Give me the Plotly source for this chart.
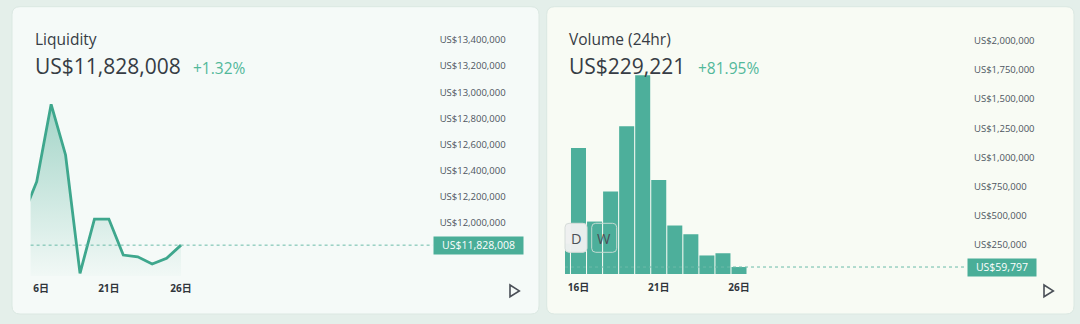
import plotly.graph_objects as go

W, H = 1080, 324

# ---------------- data ----------------
days = [15, 16, 17, 18, 19, 20, 21, 22, 23, 24, 25, 26]
liquidity = [12040000, 12314000, 12907000, 12519000, 11612000, 12028000,
             12028000, 11752000, 11739000, 11683000, 11727000, 11828008]
volume = [260000, 1082000, 450000, 708000, 1268000, 1706000,
          807000, 416000, 341000, 159000, 178000, 59797]

liq_ticks = [12000000, 12200000, 12400000, 12600000, 12800000, 13000000, 13200000, 13400000]
vol_ticks = [250000, 500000, 750000, 1000000, 1250000, 1500000, 1750000, 2000000]
liq_xticks = [16.31, 21, 26]
liq_xlabels = ["6日", "21日", "26日"]
vol_xticks = [16, 21, 26]
vol_xlabels = ["16日", "21日", "26日"]

liq_title, liq_value, liq_change = "Liquidity", "US$11,828,008", "+1.32%"
vol_title, vol_value, vol_change = "Volume (24hr)", "US$229,221", "+81.95%"
liq_last_label = "US$11,828,008"
vol_last_label = "US$59,797"

# ---------------- styling ----------------
TEAL_LINE = "#3ea78d"
TEAL_BAR = "#4daf9b"
TEAL_BOX = "#4aae98"
GREEN_TXT = "#52b89a"
DARK = "#363c44"
TICK = "#4d5560"
FONT = "Open Sans, Noto Sans CJK SC, sans-serif"


def px(x):
    return x / W


def py(y):
    return 1 - y / H


def rrect(x0, y0, x1, y1, r):
    X0, X1 = px(x0), px(x1)
    Y0, Y1 = py(y0), py(y1)
    rx, ry = r / W, r / H
    return (f"M {X0+rx},{Y0} L {X1-rx},{Y0} Q {X1},{Y0} {X1},{Y0-ry} "
            f"L {X1},{Y1+ry} Q {X1},{Y1} {X1-rx},{Y1} L {X0+rx},{Y1} "
            f"Q {X0},{Y1} {X0},{Y1+ry} L {X0},{Y0-ry} Q {X0},{Y0} {X0+rx},{Y0} Z")


fig = go.Figure()

# liquidity area line
liq_bottom = 12000000 - (276 - 222.7) * 7662.8
liq_top = 12000000 + (222.7 - 20) * 7662.8
fig.add_trace(go.Scatter(
    x=days, y=liquidity, mode="lines", xaxis="x", yaxis="y",
    line=dict(color=TEAL_LINE, width=2.8),
    fill="tozeroy",
    fillgradient=dict(type="vertical",
                      colorscale=[[0, "rgba(63,167,141,0.02)"], [1, "rgba(63,167,141,0.45)"]],
                      start=liq_bottom, stop=max(liquidity)),
    hoverinfo="skip", showlegend=False,
))

# volume bars
fig.add_trace(go.Bar(
    x=days, y=volume, xaxis="x2", yaxis="y2",
    marker=dict(color=TEAL_BAR, line=dict(width=0)),
    hoverinfo="skip", showlegend=False,
))

vol_top = (274 - 20) * 8579

shapes = []
# cards
for (x0, x1, col) in [(12, 539, "#f5faf8"), (546.7, 1074, "#f8fbf4")]:
    shapes.append(dict(type="path", path=rrect(x0, 6.7, x1, 314, 8), xref="paper", yref="paper",
                       fillcolor=col, line=dict(color="#dbe8e2", width=1), layer="below"))
# dotted last-value lines
shapes.append(dict(type="line", xref="x domain", x0=0, x1=1, yref="y",
                   y0=liquidity[-1], y1=liquidity[-1],
                   line=dict(color="#6bbba8", width=1, dash="dot"), layer="above"))
shapes.append(dict(type="line", xref="x2 domain", x0=0, x1=1, yref="y2",
                   y0=volume[-1], y1=volume[-1],
                   line=dict(color="#6bbba8", width=1, dash="dot"), layer="above"))
# D / W buttons
shapes.append(dict(type="path", path=rrect(565, 223.3, 587, 252.3, 4), xref="paper", yref="paper",
                   fillcolor="rgba(238,240,239,0.97)", line=dict(color="#d6dcd9", width=1), layer="above"))
shapes.append(dict(type="path", path=rrect(591.7, 223.3, 616.7, 252.3, 4), xref="paper", yref="paper",
                   fillcolor="rgba(0,0,0,0)", line=dict(color="#c4dbd2", width=1), layer="above"))
# play icons
for ox in (510, 1044):
    p = (f"M {px(ox)},{py(285)} L {px(ox+9.3)},{py(290.9)} L {px(ox)},{py(296.7)} Z")
    shapes.append(dict(type="path", path=p, xref="paper", yref="paper",
                       fillcolor="rgba(0,0,0,0)", line=dict(color="#4a4f57", width=1.6)))

ann = []


def text(x, y, s, size, color, anchor="left"):
    ann.append(dict(x=px(x), y=py(y), xref="paper", yref="paper", text=s, showarrow=False,
                    xanchor=anchor, yanchor="middle",
                    font=dict(family=FONT, size=size, color=color)))


text(33, 39.5, liq_title, 15.5, DARK)
text(32.5, 66, liq_value, 21, DARK)
text(190.5, 67.5, liq_change, 15.5, GREEN_TXT)
text(567.5, 39.5, vol_title, 15.5, DARK)
text(567.5, 66, vol_value, 21, DARK)
text(695.5, 67.5, vol_change, 15.5, GREEN_TXT)

# D / W labels
text(576, 238.5, "D", 14.5, "#4b5057", anchor="center")
text(604.2, 238.5, "W", 14.5, "#4b5057", anchor="center")

# last-value boxes
ann.append(dict(x=px(432.7), xref="paper", xanchor="left", y=liquidity[-1], yref="y", yanchor="middle",
                text=liq_last_label, showarrow=False, bgcolor=TEAL_BOX, borderpad=2,
                width=85, height=12.6, align="center",
                font=dict(family=FONT, size=10.5, color="white")))
ann.append(dict(x=px(967), xref="paper", xanchor="left", y=volume[-1], yref="y2", yanchor="middle",
                text=vol_last_label, showarrow=False, bgcolor=TEAL_BOX, borderpad=2,
                width=64, height=12.6, align="center",
                font=dict(family=FONT, size=10.5, color="white")))

axis_common = dict(showgrid=False, zeroline=False, showline=False, ticks="", fixedrange=True)

fig.update_layout(
    width=W, height=H, margin=dict(l=0, r=0, t=0, b=0),
    paper_bgcolor="#e4efea", plot_bgcolor="rgba(0,0,0,0)",
    bargap=0.065, showlegend=False,
    font=dict(family=FONT),
    xaxis=dict(domain=[px(30.6), px(432.7)], range=[15.577, 43.44], anchor="y",
               tickvals=liq_xticks, ticktext=liq_xlabels, ticklabelstandoff=5,
               tickfont=dict(family=FONT, size=10, color="#30353b", weight="bold"), **axis_common),
    yaxis=dict(domain=[py(276), py(20)], range=[liq_bottom, liq_top], anchor="x", side="right",
               tickvals=liq_ticks, ticktext=[f"US${v:,}" for v in liq_ticks], ticklabelstandoff=6,
               tickfont=dict(family=FONT, size=9.5, color=TICK), **axis_common),
    xaxis2=dict(domain=[px(565), px(967)], range=[15.159, 40.205], anchor="y2",
                tickvals=vol_xticks, ticktext=vol_xlabels, ticklabelstandoff=6,
                tickfont=dict(family=FONT, size=10, color="#30353b", weight="bold"), **axis_common),
    yaxis2=dict(domain=[py(274), py(20)], range=[0, vol_top], anchor="x2", side="right",
                tickvals=vol_ticks, ticktext=[f"US${v:,}" for v in vol_ticks], ticklabelstandoff=6,
                tickfont=dict(family=FONT, size=9.5, color=TICK), **axis_common),
    shapes=shapes, annotations=ann,
)

fig.write_html("out.html")
